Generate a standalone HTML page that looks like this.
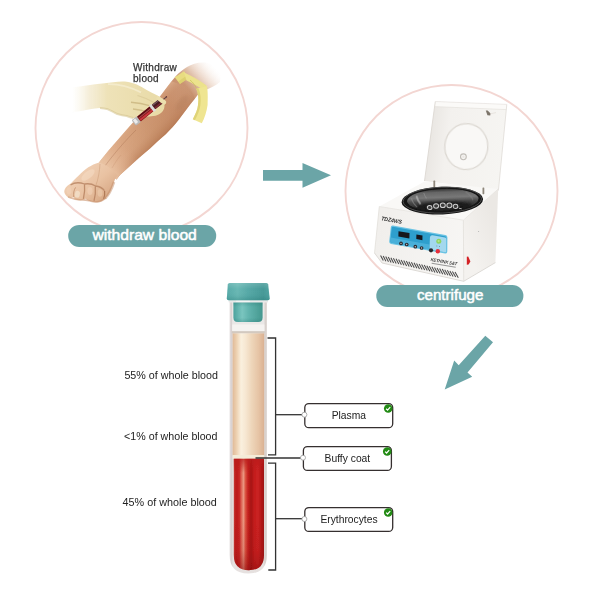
<!DOCTYPE html>
<html>
<head>
<meta charset="utf-8">
<style>
html,body{margin:0;padding:0;background:#fff;}
body{width:600px;height:600px;overflow:hidden;font-family:"Liberation Sans",sans-serif;}
svg{display:block;}
text{font-family:"Liberation Sans",sans-serif;}
</style>
</head>
<body>
<svg width="600" height="600" viewBox="0 0 600 600">
<defs>
  <linearGradient id="plasmaG" x1="0" x2="1" y1="0" y2="0">
    <stop offset="0" stop-color="#e0ba97"/>
    <stop offset="0.12" stop-color="#edd0b0"/>
    <stop offset="0.27" stop-color="#faf0de"/>
    <stop offset="0.4" stop-color="#f7e8d3"/>
    <stop offset="0.6" stop-color="#eed6ba"/>
    <stop offset="0.82" stop-color="#e6c4a5"/>
    <stop offset="1" stop-color="#dab192"/>
  </linearGradient>
  <linearGradient id="redG" x1="0" x2="1" y1="0" y2="0">
    <stop offset="0" stop-color="#c83a36"/>
    <stop offset="0.07" stop-color="#bb1a1a"/>
    <stop offset="0.18" stop-color="#c62222"/>
    <stop offset="0.26" stop-color="#de6a5a"/>
    <stop offset="0.32" stop-color="#ea9680"/>
    <stop offset="0.39" stop-color="#d9503f"/>
    <stop offset="0.47" stop-color="#c5221f"/>
    <stop offset="0.57" stop-color="#a61313"/>
    <stop offset="0.68" stop-color="#c41e1e"/>
    <stop offset="0.8" stop-color="#cb2222"/>
    <stop offset="0.92" stop-color="#b21818"/>
    <stop offset="1" stop-color="#9c1212"/>
  </linearGradient>
  <linearGradient id="redBot" x1="0" y1="0" x2="0" y2="1">
    <stop offset="0" stop-color="#8e1010" stop-opacity="0"/>
    <stop offset="0.6" stop-color="#8e1010" stop-opacity="0.12"/>
    <stop offset="0.85" stop-color="#8a0e0e" stop-opacity="0.35"/>
    <stop offset="1" stop-color="#800c0c" stop-opacity="0.5"/>
  </linearGradient>
  <linearGradient id="capG" x1="0" x2="1" y1="0" y2="0">
    <stop offset="0" stop-color="#56aaa8"/>
    <stop offset="0.25" stop-color="#68b7b3"/>
    <stop offset="0.5" stop-color="#55a8a6"/>
    <stop offset="0.85" stop-color="#469997"/>
    <stop offset="1" stop-color="#51a4a2"/>
  </linearGradient>
  <linearGradient id="capV" x1="0" x2="0" y1="0" y2="1">
    <stop offset="0" stop-color="#ffffff" stop-opacity="0.16"/>
    <stop offset="0.35" stop-color="#ffffff" stop-opacity="0"/>
    <stop offset="0.75" stop-color="#1f6f6b" stop-opacity="0.05"/>
    <stop offset="1" stop-color="#1f6f6b" stop-opacity="0.28"/>
  </linearGradient>
  <linearGradient id="stopV" x1="0" x2="0" y1="0" y2="1">
    <stop offset="0" stop-color="#1f6f6b" stop-opacity="0.35"/>
    <stop offset="0.3" stop-color="#1f6f6b" stop-opacity="0"/>
    <stop offset="0.8" stop-color="#1f6f6b" stop-opacity="0"/>
    <stop offset="1" stop-color="#1f6f6b" stop-opacity="0.25"/>
  </linearGradient>
  <linearGradient id="redTop" x1="0" x2="0" y1="0" y2="1">
    <stop offset="0" stop-color="#b81c1c" stop-opacity="0.75"/>
    <stop offset="1" stop-color="#b81c1c" stop-opacity="0"/>
  </linearGradient>
  <filter id="bt" x="-5%" y="-20%" width="110%" height="140%"><feGaussianBlur stdDeviation="0.3"/></filter>
  <filter id="b0" x="-5%" y="-5%" width="110%" height="110%"><feGaussianBlur stdDeviation="0.35"/></filter>
  <linearGradient id="stopG" x1="0" x2="1" y1="0" y2="0">
    <stop offset="0" stop-color="#4ba29d"/>
    <stop offset="0.3" stop-color="#7ac5bf"/>
    <stop offset="0.52" stop-color="#62b4ae"/>
    <stop offset="1" stop-color="#45988f"/>
  </linearGradient>
  <linearGradient id="glassG" x1="0" x2="1" y1="0" y2="0">
    <stop offset="0" stop-color="#e4dede"/>
    <stop offset="0.05" stop-color="#d9d2d2"/>
    <stop offset="0.1" stop-color="#e6e1e0"/>
    <stop offset="0.9" stop-color="#e6e1df"/>
    <stop offset="0.95" stop-color="#d6cfcb"/>
    <stop offset="1" stop-color="#e2dcd9"/>
  </linearGradient>
  <filter id="b1" x="-10%" y="-10%" width="120%" height="120%"><feGaussianBlur stdDeviation="0.6"/></filter>
  <filter id="b2" x="-10%" y="-10%" width="120%" height="120%"><feGaussianBlur stdDeviation="1.2"/></filter>
  <filter id="b3" x="-20%" y="-20%" width="140%" height="140%"><feGaussianBlur stdDeviation="2.5"/></filter>
  <clipPath id="c1"><circle cx="141.5" cy="128" r="105"/></clipPath>
  <clipPath id="c2"><circle cx="451.5" cy="191" r="105"/></clipPath>
</defs>

<!-- ===== circles ===== -->
<circle cx="141.5" cy="128" r="106" fill="#fff" stroke="#f3d6d2" stroke-width="1.9" filter="url(#bt)"/>
<circle cx="451.5" cy="191" r="106" fill="#fff" stroke="#f3d6d2" stroke-width="1.9" filter="url(#bt)"/>

<!-- ===== arm illustration ===== -->
<defs>
  <linearGradient id="armG" gradientUnits="userSpaceOnUse" x1="100" y1="175" x2="222" y2="68">
    <stop offset="0" stop-color="#e6ba98"/>
    <stop offset="0.13" stop-color="#dfae8b"/>
    <stop offset="0.28" stop-color="#d6a27d"/>
    <stop offset="0.43" stop-color="#cd9670"/>
    <stop offset="0.6" stop-color="#c78d69"/>
    <stop offset="0.76" stop-color="#ca9573"/>
    <stop offset="0.83" stop-color="#dcb79e" stop-opacity="0.9"/>
    <stop offset="0.9" stop-color="#efdccf" stop-opacity="0.6"/>
    <stop offset="0.97" stop-color="#fbf5f1" stop-opacity="0"/>
  </linearGradient>
  <linearGradient id="armShade" gradientUnits="userSpaceOnUse" x1="128" y1="120" x2="154" y2="147">
    <stop offset="0" stop-color="#efc9a9" stop-opacity="0.55"/>
    <stop offset="0.3" stop-color="#d9a682" stop-opacity="0.1"/>
    <stop offset="0.65" stop-color="#bd8560" stop-opacity="0.15"/>
    <stop offset="0.9" stop-color="#b0724c" stop-opacity="0.5"/>
    <stop offset="1" stop-color="#a86a46" stop-opacity="0.7"/>
  </linearGradient>
  <linearGradient id="fistG" gradientUnits="userSpaceOnUse" x1="78" y1="170" x2="106" y2="202">
    <stop offset="0" stop-color="#f0d0b5"/>
    <stop offset="0.5" stop-color="#e9c2a2"/>
    <stop offset="1" stop-color="#d6a683"/>
  </linearGradient>
  <linearGradient id="wristG" gradientUnits="userSpaceOnUse" x1="105" y1="173" x2="129" y2="149">
    <stop offset="0" stop-color="#ebc6a7" stop-opacity="1"/>
    <stop offset="0.25" stop-color="#e9c2a2" stop-opacity="0.8"/>
    <stop offset="1" stop-color="#dfae8b" stop-opacity="0"/>
  </linearGradient>
  <linearGradient id="gloveG" gradientUnits="userSpaceOnUse" x1="72" y1="100" x2="165" y2="100">
    <stop offset="0" stop-color="#f8f3e0" stop-opacity="0"/>
    <stop offset="0.18" stop-color="#f3ead0" stop-opacity="0.8"/>
    <stop offset="0.38" stop-color="#eee2b8"/>
    <stop offset="1" stop-color="#e8daa6"/>
  </linearGradient>
  <clipPath id="armClip"><path d="M99,162.5 C105,154.5 117,140.5 133,122.5 C143,112 152,104 160,96.5 C165,90 170,83 175.3,76.7 C179,72.5 183,69.5 187,67 C192,64 198,62 205,62.5 C211,63 217,66 221,71 L220,82 C216,85.5 210,88.5 204,90.5 C200.5,92 198,94.5 195.8,97.5 C193.8,100 191.8,102.5 189.8,105 C186,110 182.3,115 178.5,120 C174.5,125 170.5,129.5 166,134 C163.3,136.5 160.7,138.8 158,141 C155.3,143.5 152.7,146 150,148.5 C146.7,151.3 143.3,154.2 140,157 C136.7,160 133.3,163 130,166 C126.7,169 123.3,172 120,175 C118.8,176.5 117.6,178 116.5,179.5 Z"/></clipPath>
</defs>
<g clip-path="url(#c1)">
 <g filter="url(#b1)">
  <!-- arm -->
  <path d="M99,162.5 C105,154.5 117,140.5 133,122.5 C143,112 152,104 160,96.5 C165,90 170,83 175.3,76.7 C179,72.5 183,69.5 187,67 C192,64 198,62 205,62.5 C211,63 217,66 221,71 L220,82 C216,85.5 210,88.5 204,90.5 C200.5,92 198,94.5 195.8,97.5 C193.8,100 191.8,102.5 189.8,105 C186,110 182.3,115 178.5,120 C174.5,125 170.5,129.5 166,134 C163.3,136.5 160.7,138.8 158,141 C155.3,143.5 152.7,146 150,148.5 C146.7,151.3 143.3,154.2 140,157 C136.7,160 133.3,163 130,166 C126.7,169 123.3,172 120,175 C118.8,176.5 117.6,178 116.5,179.5 Z" fill="url(#armG)"/>
  <g clip-path="url(#armClip)">
    <path d="M90,160 L168,80 L190,88 L200,110 L110,195 Z" fill="url(#armShade)"/>
    <path d="M85,150 L135,125 L150,160 L100,195 Z" fill="url(#wristG)"/>
    <!-- tendon line -->
    <path d="M105,166 C113,155 124,142 136,130" fill="none" stroke="#9c6244" stroke-width="0.6" opacity="0.5"/>
    <path d="M112,168 C115,163 118,158 121,155" fill="none" stroke="#a56d4c" stroke-width="0.6" opacity="0.25"/>
    <!-- elbow shadow -->
    <ellipse cx="182" cy="103" rx="9" ry="4" transform="rotate(-52 182 103)" fill="#b07a58" opacity="0.3" filter="url(#b2)"/>
  </g>
  <!-- fist -->
  <path d="M99,162.5 C95,163.5 91.5,165.5 88.3,167.3 C84.5,170 81.5,172.8 79,175.3 C76,178 73.5,180.8 71,183.3 C68.5,185 66,186.6 65,188.7 C64,190.5 64,192.5 65,194 C65.8,195.6 67,196.8 68.3,197.3 C70,198 72,197.8 73.7,197.3 C74,198.2 74.4,198.8 75,199.3 C77,200.6 79.6,200.5 81.7,200 C83.2,199.7 84.6,199.2 85.7,198.7 C87.2,200.2 89,201 91,201.3 C93.6,202.4 96.5,202.5 99,202 C102,201.2 104.5,199.5 106.3,197.3 C108.3,195.2 109.8,192.7 111,190 C112.6,186.5 113.8,182.8 115,179.3 C115.8,177.8 116.8,176.4 117.7,175.3 C112,169 105,164 99,162.5 Z" fill="url(#fistG)"/>
  <!-- fist shading -->
  <g filter="url(#b1)">
    <!-- knuckle crease -->
    <path d="M70.5,185 C74,182.6 79,182 84.5,184 C88.5,183.4 92.5,184 95.5,186 C99,186.4 102.5,188 104.5,190.6" fill="none" stroke="#b78260" stroke-width="1.3" opacity="0.8"/>
    <!-- finger gaps -->
    <path d="M84.5,184.4 C85,189 84.6,194 83.4,198.8" fill="none" stroke="#b78260" stroke-width="1.3" opacity="0.85"/>
    <path d="M95.3,186.4 C95.7,191 95.3,196 94,200.8" fill="none" stroke="#b78260" stroke-width="1.3" opacity="0.85"/>
    <path d="M104.6,191 C105,194 104.6,196.6 103.6,199" fill="none" stroke="#a8704e" stroke-width="1.2" opacity="0.85"/>
    <path d="M73.8,197.2 C73.2,193.6 73.8,190 75.6,187.4" fill="none" stroke="#c08e6c" stroke-width="1" opacity="0.8"/>
    <!-- bottom shading -->
    <path d="M68,197 C72,198.6 76,199.6 81,200 C85,199.4 88,200.6 91,201.3 C96,202.6 102,201.6 106,197.6" fill="none" stroke="#c9946f" stroke-width="1.6" opacity="0.6"/>
    <!-- right-side shading -->
    <path d="M105,198.6 C108.6,195 111.6,189.4 114,182" fill="none" stroke="#c38e6a" stroke-width="2.6" opacity="0.5"/>
    <!-- thumb nail -->
    <rect x="75" y="190.8" width="4.8" height="6.8" rx="2.1" transform="rotate(10 77.4 194.2)" fill="#f1dcc4" opacity="0.95"/>
    <!-- highlights -->
    <ellipse cx="88" cy="175" rx="8" ry="3.6" transform="rotate(-38 88 175)" fill="#f6dcc4" opacity="0.55"/>
    <ellipse cx="90" cy="191" rx="2.6" ry="4" fill="#f3d6bc" opacity="0.5"/>
    <ellipse cx="100" cy="193" rx="2.4" ry="3.8" fill="#f0d2b6" opacity="0.45"/>
    <ellipse cx="69" cy="191" rx="2.4" ry="3.4" fill="#f3d6bc" opacity="0.5"/>
    <!-- wrist crease -->
    <path d="M100,164 C99.6,171 98.4,179 95.8,185.6" fill="none" stroke="#c99873" stroke-width="0.8" opacity="0.6"/>
  </g>
  <!-- tourniquet -->
  <path d="M174.7,77.3 L184,71.3 L188.7,78 L180,84 Z" fill="#e8dc80"/>
  <path d="M180,84 L188.7,78 L186.8,75.4 L178.4,81.4 Z" fill="#d3c662" opacity="0.55"/>
  <path d="M184,72.6 C191,75.5 199,80 206.5,85.5 L204,90.5 C198.5,86.5 192,83 186.5,80.5 Z" fill="#ece28c"/>
  <path d="M196,88 C197.5,89 203,87.5 206.9,85.8 C207.8,90 207.9,97 207.6,105 C206.6,112 204.6,118 201.8,123.2 L192.8,119.2 C195.6,114 197.6,109 198,105 C198.8,99 198.4,93 196,88 Z" fill="#efe591"/>
  <path d="M196,88 C198.4,93 198.8,99 198,105 C197.6,109 195.6,114 192.8,119.2 L194.9,120.2 C197.8,115 199.9,109.5 200.4,105 C201.2,99 200.6,93 198.4,88.2 Z" fill="#d9cc6c" opacity="0.7"/>
  <path d="M190,80 C193,82.5 195,85 196.5,88.5" fill="none" stroke="#cbbd5c" stroke-width="1" opacity="0.7"/>
  <!-- glove -->
  <path d="M72,87.5 C78,86.4 84,85.6 90,84.9 C93.4,84.5 96.7,84.1 100,83.8 C104.5,83.3 109,82.7 113.3,82.3 C117.8,81.6 122.3,81.3 126.7,81.7 C130.5,82.2 134,83.3 137.3,84.7 C140.6,86.3 143.7,88.2 146.7,90 C149.8,91.6 153,93.2 156,94.7 C158.4,96 160.7,97.3 162.7,98.7 C164,99.5 165.2,100.4 166,101.3 C166.8,102.6 165.6,103.8 164.4,104.6 C164.6,106 164.5,107.4 164,108.7 C163.4,110.2 162.5,111.6 161.3,112.7 C159,114.6 156.2,115.6 153.3,116 C150.2,116.6 147,116.8 144,116.7 C140.5,117.6 137,118 133.3,118 C131,117.5 128.8,116.8 126.7,116 C123.4,115.6 120.3,114.9 117.3,114 C114,112.5 111,110.6 108,109.3 C105.4,108.5 102.7,108.1 100,108 C96.5,108.2 93.2,108.7 90,109.2 C84,110.4 78,111.5 72,112.5 Z" fill="url(#gloveG)"/>
  <!-- glove shading -->
  <path d="M100,108 C103,108.1 105.4,108.5 108,109.3 C111,110.6 114,112.5 117.3,114 C120.3,114.9 123.4,115.6 126.7,116 C128.8,116.8 131,117.5 133.3,118" fill="none" stroke="#d3c28c" stroke-width="2" opacity="0.55" filter="url(#b1)"/>
  <path d="M131,102.3 C137,102.8 144,104 150.5,105.8" fill="none" stroke="#c9b47e" stroke-width="1.4" opacity="0.8"/>
  <path d="M133,109 C138,109.6 143.5,110.6 148,112" fill="none" stroke="#c9b47e" stroke-width="1.3" opacity="0.75"/>
  <path d="M137.5,95.5 C143,97 150,100 156,103.4" fill="none" stroke="#d6c592" stroke-width="1.2" opacity="0.6"/>
  <path d="M108,84.2 C118,84 130,87 141,92.4" fill="none" stroke="#f8f2da" stroke-width="1.8" opacity="0.6"/>
  <!-- syringe -->
  <g transform="translate(136.4,120.9) rotate(-38.6)">
    <rect x="-3.4" y="-3.5" width="6.6" height="7" rx="1.2" fill="#b9b9b9"/>
    <rect x="-2.4" y="-2.6" width="3" height="4.6" fill="#ececec"/>
    <rect x="3" y="-3" width="17.5" height="6.2" rx="0.8" fill="#86181c"/>
    <rect x="3.4" y="0.6" width="16.6" height="2" fill="#c9383d"/>
    <rect x="3.4" y="-2.7" width="16.6" height="1.4" fill="#561014"/>
    <rect x="3.4" y="-1.1" width="16.6" height="0.8" fill="#b96a6a" opacity="0.7"/>
    <rect x="19.2" y="-4" width="2.8" height="8" fill="#dcdcdc"/>
    <rect x="22" y="-3" width="10.6" height="5.8" rx="0.8" fill="#4b1a22"/>
    <rect x="22.4" y="0.6" width="9.6" height="1.6" fill="#7e2b34"/>
    <rect x="22.4" y="-2.6" width="9.6" height="1" fill="#8d8088" opacity="0.7"/>
    <rect x="32.6" y="-0.5" width="6.5" height="1" fill="#5a4a4a"/>
  </g>
  <!-- fingertip over syringe -->
  <path d="M157,95.4 C159.5,96.6 162.5,98.4 164.6,100 C166.6,101.6 166.2,103.6 164.4,104.8 C162,103.8 159.2,101.6 156.4,99 Z" fill="#ecdfae"/>
  <circle cx="166.3" cy="96.8" r="0.55" fill="#6a1a1a"/>
  <circle cx="164.3" cy="98.6" r="0.45" fill="#7a2a2a"/>
 </g>
 <!-- caption -->
 <g font-size="10" fill="#333" stroke="#333" stroke-width="0.25" letter-spacing="0.3" filter="url(#bt)">
  <text x="133" y="70.6">Withdraw</text>
  <text x="133" y="82.4">blood</text>
 </g>
</g>
<!-- ===== centrifuge ===== -->
<defs>
  <linearGradient id="lidG" gradientUnits="userSpaceOnUse" x1="428" y1="140" x2="505" y2="150">
    <stop offset="0" stop-color="#e9e6e2"/>
    <stop offset="0.25" stop-color="#f3f1ee"/>
    <stop offset="1" stop-color="#f6f5f2"/>
  </linearGradient>
  <linearGradient id="frontG" gradientUnits="userSpaceOnUse" x1="378" y1="230" x2="464" y2="250">
    <stop offset="0" stop-color="#f1efec"/>
    <stop offset="1" stop-color="#f7f6f4"/>
  </linearGradient>
  <linearGradient id="sideG" gradientUnits="userSpaceOnUse" x1="463" y1="240" x2="498" y2="225">
    <stop offset="0" stop-color="#f4f2ef"/>
    <stop offset="1" stop-color="#ebe8e4"/>
  </linearGradient>
  <linearGradient id="bowlIn" x1="0" y1="0" x2="0" y2="1">
    <stop offset="0" stop-color="#343434"/>
    <stop offset="0.15" stop-color="#666666"/>
    <stop offset="0.38" stop-color="#787878"/>
    <stop offset="0.58" stop-color="#484848"/>
    <stop offset="1" stop-color="#1a1a1a"/>
  </linearGradient>
  <linearGradient id="panelG" gradientUnits="userSpaceOnUse" x1="390" y1="235" x2="447" y2="245">
    <stop offset="0" stop-color="#46abdb"/>
    <stop offset="1" stop-color="#55b4e0"/>
  </linearGradient>
</defs>
<g clip-path="url(#c2)">
 <g filter="url(#b1)">
  <!-- lid -->
  <path d="M435.3,101.5 L506.8,104.4 L498.4,190.5 L424.5,181 Z" fill="url(#lidG)"/>
  <path d="M435.3,101.5 L506.8,104.4 L506.3,109.4 L434.8,106.4 Z" fill="#fbfaf8"/>
  <path d="M434.8,106.6 L506.3,109.6" stroke="#e2dfda" stroke-width="0.6" fill="none"/>
  <path d="M435.3,101.5 L424.5,181" stroke="#dcd8d3" stroke-width="0.9" fill="none"/>
  <path d="M506.8,104.4 L498.4,190.5" stroke="#e0dcd7" stroke-width="0.8" fill="none"/>
  <path d="M435.3,101.5 L506.8,104.4" stroke="#e6e3df" stroke-width="0.7" fill="none"/>
  <!-- lid disc -->
  <ellipse cx="466.3" cy="146.6" rx="21.5" ry="23" transform="rotate(6 466.3 146.6)" fill="#f9f8f6" stroke="#dcd8d2" stroke-width="1.3" filter="url(#b1)"/>
  <circle cx="463.4" cy="156.8" r="2.9" fill="#f6f5f2" stroke="#c2beb8" stroke-width="1.1"/>
  <circle cx="463.4" cy="156.8" r="1.2" fill="#eae7e3"/>
  <!-- latch -->
  <path d="M485.8,110.6 L487.6,110.4 L490.6,113.6 L490.2,115.6 L487.4,115.2 Z" fill="#7d756b"/>
  <path d="M490.4,113.8 L496,112.6" stroke="#e4e0da" stroke-width="0.8"/>
  <!-- body: top face -->
  <path d="M379.3,206.5 L424.5,181.5 L498.2,189 L463.4,220.2 Z" fill="#f9f8f6"/>
  <!-- front face -->
  <path d="M379.3,206.5 L463.4,220.2 L463.7,281.3 L382,263 L374.5,253 Z" fill="url(#frontG)"/>
  <!-- right face -->
  <path d="M463.4,220.2 L498.2,189 L495.4,262.6 L463.7,281.3 Z" fill="url(#sideG)"/>
  <path d="M463.4,220.2 L463.7,281.3" stroke="#e2dfda" stroke-width="0.8"/>
  <path d="M379.3,206.5 L463.4,220.2 L498.2,189" stroke="#e4e1dc" stroke-width="0.7" fill="none"/>
  <path d="M374.5,253 L382,263 L463.7,281.3 L495.4,262.6" stroke="#d6d2cd" stroke-width="0.8" fill="none"/>
  <path d="M379.3,206.5 L374.5,253" stroke="#e0dcd7" stroke-width="0.7" fill="none"/>
  <!-- hinges -->
  <rect x="433.4" y="180.6" width="1.8" height="6.8" rx="0.6" fill="#8f887c"/>
  <rect x="482.5" y="187.4" width="1.8" height="6.8" rx="0.6" fill="#8f887c"/>
  <!-- bowl -->
  <g transform="translate(0,0.7) rotate(-2.2 442.5 199.8)">
    <ellipse cx="442.3" cy="199.9" rx="40.8" ry="13.9" fill="#131313"/>
    <ellipse cx="442.3" cy="199.4" rx="39.2" ry="12.9" fill="none" stroke="#5e5e5e" stroke-width="0.8"/>
    <ellipse cx="442.8" cy="199.3" rx="35.8" ry="11.1" fill="url(#bowlIn)"/>
    <ellipse cx="443.5" cy="205.6" rx="28" ry="4.8" fill="#181818" opacity="0.85" filter="url(#b2)"/>
    <!-- inner wall reflections -->
    <path d="M416.5,194 C417.2,197 418.4,200 420.5,202.6" fill="none" stroke="#d0d0d0" stroke-width="1.8" opacity="0.55" filter="url(#b1)"/>
    <path d="M411.5,196.5 C412.2,199.5 414,202.8 417,205.4" fill="none" stroke="#9a9a9a" stroke-width="1.1" opacity="0.5"/>
    <path d="M424,191.5 C424.6,193.5 425.4,195.4 426.6,197" fill="none" stroke="#a5a5a5" stroke-width="1" opacity="0.45"/>
    <path d="M466,192 C469.5,194.5 472,197.5 473,200.5" fill="none" stroke="#8a8a8a" stroke-width="1.2" opacity="0.5" filter="url(#b1)"/>
    <!-- rotor -->
    <ellipse cx="442.6" cy="206" rx="17.5" ry="3.8" fill="#262626"/>
    <g fill="#3c3c3c" stroke="#cdcdcd" stroke-width="1">
      <ellipse cx="429.4" cy="206.3" rx="2.3" ry="2.1"/>
      <ellipse cx="435.9" cy="205" rx="2.5" ry="2.3"/>
      <ellipse cx="442.6" cy="204.6" rx="2.5" ry="2.3"/>
      <ellipse cx="449.2" cy="204.9" rx="2.5" ry="2.3"/>
      <ellipse cx="455.3" cy="206.2" rx="2.3" ry="2.1"/>
    </g>
    <path d="M458.6,208.2 L461.4,208.8" stroke="#bdbdbd" stroke-width="0.9"/>
  </g>
  <!-- model label -->
  <text x="381" y="220.2" font-size="5.6" font-weight="bold" font-style="italic" fill="#2c2c2c" transform="rotate(10 381 220.2)" textLength="20.8" lengthAdjust="spacingAndGlyphs">TDZ4WS</text>
  <!-- control panel -->
  <path d="M393,225.5 L445.4,235.1 Q447.4,235.5 447.4,237.5 L447.3,251.6 Q447.3,253.8 445.2,253.4 L391,243.9 Q389,243.5 389.2,241.5 L390.8,227.2 Q391,225.1 393,225.5 Z" fill="#6cc4e4"/>
  <path d="M393.2,226.8 L445,236.3 Q446.3,236.6 446.3,237.8 L446.2,251 Q446.2,252.4 444.9,252.2 L391.4,242.8 Q390.1,242.5 390.3,241.3 L391.7,227.8 Q391.9,226.5 393.2,226.8 Z" fill="#2d9fcd"/>
  <path d="M390.8,237.4 L429.6,244.4 L429.4,249.5 L391.4,242.8 Q390.1,242.5 390.3,241.3 Z" fill="#49b0d9"/>
  <path d="M432.6,235.3 L445,237.5 Q446.3,237.8 446.3,239 L446.2,251 Q446.2,252.4 444.9,252.2 L431,249.8 Q429.6,249.5 429.6,248.2 L429.9,237.8 Q430,234.8 432.6,235.3 Z" fill="#a3d8ee"/>
  <path d="M398.5,231.2 L409.5,233.1 L409.4,238.5 L398.4,236.6 Z" fill="#15161e"/>
  <path d="M416.4,234.5 L422.5,235.6 L422.4,240.2 L416.3,239.1 Z" fill="#15161e"/>
  <g fill="#2b2a30">
    <circle cx="401" cy="243.4" r="1.85"/>
    <circle cx="406.7" cy="244.5" r="1.85"/>
    <circle cx="415.3" cy="246.7" r="1.85"/>
    <circle cx="421.6" cy="248" r="1.85"/>
    <circle cx="431" cy="250.3" r="2.1" fill="#26262a"/>
  </g>
  <g fill="#c9c4c4">
    <circle cx="401" cy="243.4" r="0.7"/>
    <circle cx="406.7" cy="244.5" r="0.7"/>
    <circle cx="415.3" cy="246.7" r="0.7"/>
    <circle cx="421.6" cy="248" r="0.7"/>
  </g>
  <circle cx="438.8" cy="241.3" r="2.5" fill="#8ed45e"/>
  <circle cx="438.6" cy="241.1" r="1.1" fill="#b4e690"/>
  <circle cx="437.8" cy="251.2" r="2.2" fill="#e62f3a"/>
  <circle cx="436.9" cy="246" r="0.4" fill="#555"/>
  <circle cx="439.6" cy="246.4" r="0.4" fill="#333"/>
  <!-- vents -->
  <g stroke="#3c3c3c" stroke-width="1.05" opacity="0.92">
    <path d="M380.6,255.4 L383.3,260.6"/>
    <path d="M383.2,256.0 L385.9,261.2"/>
    <path d="M385.7,256.5 L388.5,261.8"/>
    <path d="M388.3,257.1 L391.1,262.4"/>
    <path d="M390.9,257.7 L393.6,263.0"/>
    <path d="M393.4,258.3 L396.2,263.5"/>
    <path d="M396.0,258.8 L398.8,264.1"/>
    <path d="M398.6,259.4 L401.4,264.7"/>
    <path d="M401.1,260.0 L404.0,265.3"/>
    <path d="M403.7,260.6 L406.6,265.9"/>
    <path d="M406.3,261.1 L409.2,266.5"/>
    <path d="M408.8,261.7 L411.7,267.1"/>
    <path d="M411.4,262.3 L414.3,267.7"/>
    <path d="M414.0,262.8 L416.9,268.3"/>
    <path d="M416.5,263.4 L419.5,268.9"/>
    <path d="M419.1,264.0 L422.1,269.4"/>
    <path d="M421.6,264.6 L424.7,270.0"/>
    <path d="M424.2,265.1 L427.3,270.6"/>
    <path d="M426.8,265.7 L429.9,271.2"/>
    <path d="M429.3,266.3 L432.4,271.8"/>
    <path d="M431.9,266.8 L435.0,272.4"/>
    <path d="M434.5,267.4 L437.6,273.0"/>
    <path d="M437.0,268.0 L440.2,273.6"/>
    <path d="M439.6,268.6 L442.8,274.2"/>
    <path d="M442.2,269.1 L445.4,274.8"/>
    <path d="M444.7,269.7 L448.0,275.3"/>
    <path d="M447.3,270.3 L450.5,275.9"/>
    <path d="M449.9,270.9 L453.1,276.5"/>
    <path d="M452.4,271.4 L455.7,277.1"/>
    <path d="M455.0,272.0 L458.3,277.7"/>
  </g>
  <!-- brand -->
  <g transform="translate(430.4,261) rotate(9.5)">
    <text x="0" y="0" font-size="4.6" font-weight="bold" font-style="italic" fill="#3a3a3a" textLength="27" lengthAdjust="spacingAndGlyphs">KETHINK S&amp;T</text>
    <rect x="1.6" y="1.4" width="24.4" height="1" fill="#777" opacity="0.75"/>
  </g>
  <!-- red switch -->
  <path d="M466.8,256.8 L468.2,256.6 L470.4,261.4 L468.6,264.4 L466.8,264.8 Z" fill="#d42226"/>
  <circle cx="478.6" cy="231.4" r="0.5" fill="#aaa"/>
 </g>
</g>


<!-- ===== pills ===== -->
<rect x="68.2" y="224.9" width="148" height="22" rx="11" fill="#6ba5a7"/>
<text x="92.4" y="240.1" font-size="14.8" fill="#fff" stroke="#fff" stroke-width="0.5" stroke-linejoin="round" textLength="104.4" lengthAdjust="spacingAndGlyphs">withdraw blood</text>
<rect x="376.3" y="284.9" width="147.1" height="22" rx="11" fill="#6ba5a7"/>
<text x="416.9" y="299.9" font-size="14.8" fill="#fff" stroke="#fff" stroke-width="0.5" stroke-linejoin="round" textLength="66.6" lengthAdjust="spacingAndGlyphs">centrifuge</text>

<!-- ===== arrows ===== -->
<polygon points="263,170 302.5,170 302.5,163 331,175.3 302.5,187.8 302.5,180.8 263,180.8" fill="#6ba5a7"/>
<polygon points="485.3,335.8 493,342.2 467.5,372.5 472.2,376.7 444.7,389.5 454.2,360.5 458.7,365.3" fill="#6ba5a7"/>

<!-- ===== test tube ===== -->
<g id="tube" filter="url(#b0)">
  <!-- outer glass -->
  <path d="M229.6,301 H267 V555 Q267,573.5 248.3,573.5 Q229.6,573.5 229.6,555 Z" fill="url(#glassG)"/>
  <!-- empty top region -->
  <rect x="232.2" y="302" width="32.2" height="31.5" fill="#eae8e7"/>
  <rect x="232.2" y="324.5" width="32.2" height="6.5" fill="#f5f3f1"/>
  <rect x="231.8" y="331.2" width="33" height="2.2" fill="#d3c9bf"/>
  <!-- plasma -->
  <rect x="232.6" y="333.4" width="31.6" height="122" fill="url(#plasmaG)"/>
  <!-- buffy coat -->
  <rect x="232.6" y="455" width="31.6" height="4" fill="#f4ecd8"/>
  <!-- red cells -->
  <path d="M233.8,458.8 H264 V555 Q264,570.2 248.9,570.2 Q233.8,570.2 233.8,555 Z" fill="url(#redG)"/>
  <rect x="233.8" y="458.8" width="30.2" height="14" fill="url(#redTop)"/>
  <!-- bottom shading on red -->
  <path d="M233.8,520 H264 V555 Q264,570.2 248.9,570.2 Q233.8,570.2 233.8,555 Z" fill="url(#redBot)"/>
  <!-- stopper (inner) -->
  <path d="M233.4,300.5 H262.6 V317.5 Q262.6,322 258,322 H238 Q233.4,322 233.4,317.5 Z" fill="url(#stopG)"/>
  <path d="M233.4,300.5 H262.6 V317.5 Q262.6,322 258,322 H238 Q233.4,322 233.4,317.5 Z" fill="url(#stopV)"/>
  <!-- rim -->
  <rect x="228.6" y="300" width="39.4" height="2.6" rx="1.2" fill="#e9e9e9"/>
  <rect x="236" y="300.6" width="14" height="1.2" rx="0.6" fill="#fafafa" opacity="0.9"/>
  <!-- cap -->
  <path d="M229.6,283 H266.4 Q268,283 268.2,284.6 L269.7,298.4 Q269.8,300.3 268,300.3 H228.5 Q226.7,300.3 226.8,298.4 L227.8,284.6 Q228,283 229.6,283 Z" fill="url(#capG)"/>
  <path d="M229.6,283 H266.4 Q268,283 268.2,284.6 L269.7,298.4 Q269.8,300.3 268,300.3 H228.5 Q226.7,300.3 226.8,298.4 L227.8,284.6 Q228,283 229.6,283 Z" fill="url(#capV)"/>
</g>

<!-- ===== brackets & connectors ===== -->
<g fill="none" stroke="#333" stroke-width="1.3" filter="url(#bt)">
  <path d="M267.5,338 H275.6 V454.8 H268"/>
  <path d="M268,463.2 H275.6 V570 H268.3"/>
  <path d="M275.6,414.7 H304"/>
  <path d="M255.5,458 H303"/>
  <path d="M275.6,518.7 H304"/>
</g>

<!-- ===== boxes ===== -->
<g fill="#fff" stroke="#352f2f" stroke-width="1.3">
  <rect x="304.8" y="403.6" width="87.9" height="24.1" rx="4"/>
  <rect x="303.4" y="446.6" width="88" height="23.8" rx="4"/>
  <rect x="304.8" y="507.6" width="87.9" height="23.8" rx="4"/>
</g>
<g fill="#fff" stroke="#9a9a9a" stroke-width="0.8">
  <circle cx="304.4" cy="414.7" r="2.5"/>
  <circle cx="303" cy="457.7" r="2.5"/>
  <circle cx="304.4" cy="519" r="2.5"/>
</g>
<g font-size="10.3" fill="#222" text-anchor="middle" filter="url(#bt)">
  <text x="348.8" y="418.8">Plasma</text>
  <text x="347.4" y="461.8">Buffy coat</text>
  <text x="349" y="522.8">Erythrocytes</text>
</g>
<!-- check icons -->
<g filter="url(#bt)">
  <circle cx="388.2" cy="408.5" r="4.25" fill="#228a12"/>
  <path d="M386.1,408.7 L387.6,410.1 L390.2,407.2" fill="none" stroke="#fff" stroke-width="1.25"/>
  <circle cx="387.2" cy="451.4" r="4.25" fill="#228a12"/>
  <path d="M385.1,451.6 L386.6,453.0 L389.2,450.1" fill="none" stroke="#fff" stroke-width="1.25"/>
  <circle cx="388.2" cy="512.4" r="4.25" fill="#228a12"/>
  <path d="M386.1,512.6 L387.6,514.0 L390.2,511.1" fill="none" stroke="#fff" stroke-width="1.25"/>
</g>

<!-- ===== left labels ===== -->
<g font-size="11.2" fill="#222" filter="url(#bt)">
  <text x="124.4" y="378.9" textLength="93.6" lengthAdjust="spacingAndGlyphs">55% of whole blood</text>
  <text x="124.1" y="440" textLength="93.4" lengthAdjust="spacingAndGlyphs">&lt;1% of whole blood</text>
  <text x="122.6" y="505.8" textLength="94.2" lengthAdjust="spacingAndGlyphs">45% of whole blood</text>
</g>
</svg>
</body>
</html>
